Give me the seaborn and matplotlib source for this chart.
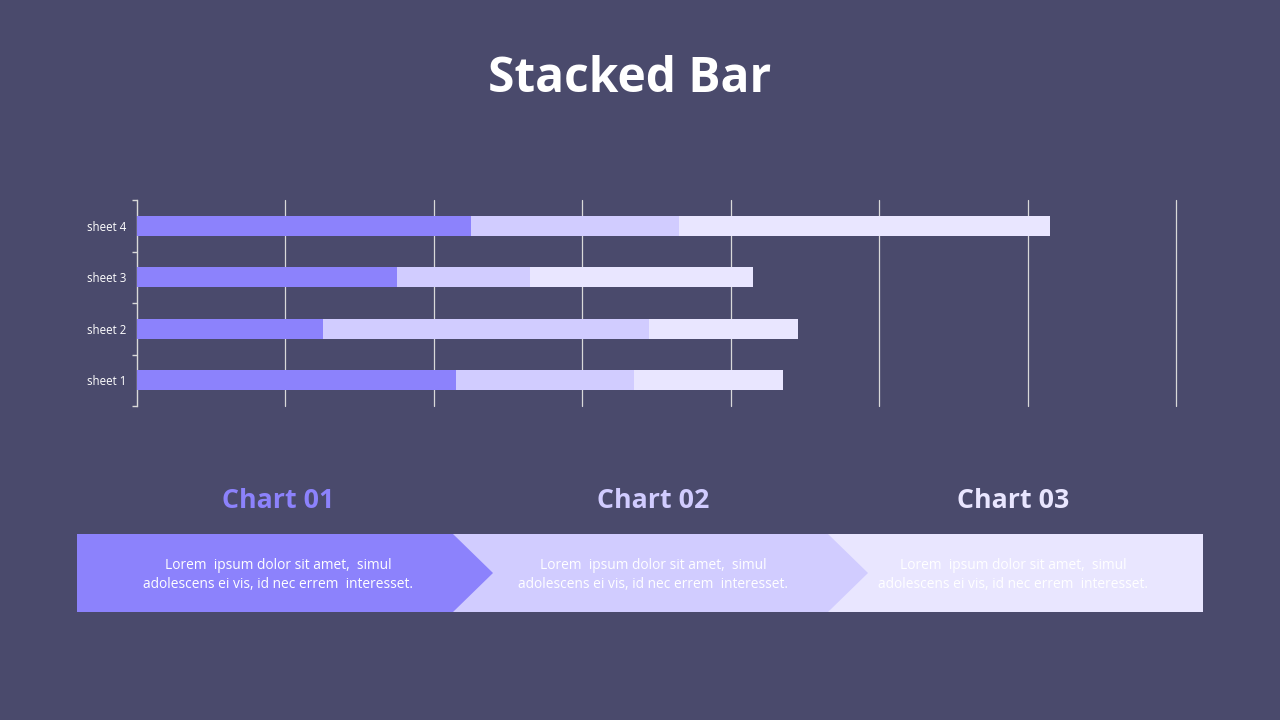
import numpy as np
import pandas as pd
import matplotlib
matplotlib.use("Agg")
import matplotlib.pyplot as plt
from matplotlib.patches import Polygon
import seaborn as sns

sns.set_theme(style="white")
plt.rcParams['font.family'] = ['Open Sans', 'DejaVu Sans']

# Chart values (series 1..3 for each sheet)
sheets = ["sheet 1", "sheet 2", "sheet 3", "sheet 4"]
series_1 = [4.3, 2.5, 3.5, 4.5]
series_2 = [2.4, 4.4, 1.8, 2.8]
series_3 = [2.0, 2.0, 3.0, 5.0]
x_ticks = [2, 4, 6, 8, 10, 12, 14]

# Bottom captions
chart_titles = ["Chart 01", "Chart 02", "Chart 03"]
caption = "Lorem  ipsum dolor sit amet,  simul\nadolescens ei vis, id nec errem  interesset."

BG = "#4A4A6C"
COLORS = ["#8C82FC", "#D1CCFF", "#E9E6FF"]
LINE = "#D9D9D9"

df = pd.DataFrame({"sheet": sheets, "s1": series_1, "s2": series_2, "s3": series_3})
df["c1"] = df["s1"]
df["c2"] = df["s1"] + df["s2"]
df["c3"] = df["s1"] + df["s2"] + df["s3"]
order = sheets[::-1]  # sheet 4 at top

fig = plt.figure(figsize=(12.8, 7.2), dpi=100, facecolor=BG)

# Main stacked bar axes
ax = fig.add_axes([137 / 1280, 1 - 406 / 720, 1039 / 1280, 206 / 720])
ax.set_facecolor(BG)

# draw cumulative totals from largest to smallest so they stack visually
for col, color in zip(["c3", "c2", "c1"], COLORS[::-1]):
    sns.barplot(data=df, x=col, y="sheet", order=order, orient="h",
                color=color, width=0.39, saturation=1, ax=ax, zorder=3,
                linewidth=0, edgecolor="none")

ax.set_xlim(0, 14)
ax.set_ylim(3.5, -0.5)
ax.set_xlabel("")
ax.set_ylabel("")
ax.set_xticks(x_ticks)
ax.set_xticklabels([])
ax.tick_params(axis="x", length=0)
ax.grid(axis="x", color=LINE, linewidth=0.9, zorder=0)
ax.grid(axis="y", visible=False)
ax.set_axisbelow(True)
for gl in ax.get_xgridlines():
    gl.set_clip_on(False)

ax.set_yticks(range(len(order)))
ax.set_yticklabels(order, color="white", fontsize=8.3)
ax.set_yticks(np.arange(-0.5, 4.0, 1.0), minor=True)
ax.tick_params(axis="y", which="major", length=0, pad=8)
ax.tick_params(axis="y", which="minor", left=True, length=3.5, width=1,
               color=LINE, direction="out")

for side in ["top", "right", "bottom"]:
    ax.spines[side].set_visible(False)
ax.spines["left"].set_color(LINE)
ax.spines["left"].set_linewidth(1)

# Title
fig.text(630 / 1280, 1 - 80 / 720, "Stacked Bar", color="white", fontsize=34.5,
         fontweight="bold", ha="center", va="center")

# Overlay axes in pixel coordinates for the arrow bands
ov = fig.add_axes([0, 0, 1, 1])
ov.set_xlim(0, 1280)
ov.set_ylim(720, 0)
ov.axis("off")
ov.patch.set_alpha(0)

top, bot, mid = 534, 612, 573
starts = [77, 453, 828]
ends = [453, 828, 1203]
points = [493, 868, None]
centers = [278, 653, 1013]

for i in range(3)[::-1]:
    x0, x1, xp = starts[i], ends[i], points[i]
    if xp is None:
        verts = [(x0, top), (x1, top), (x1, bot), (x0, bot)]
    else:
        verts = [(x0, top), (x1, top), (xp, mid), (x1, bot), (x0, bot)]
    ov.add_patch(Polygon(verts, closed=True, facecolor=COLORS[i], edgecolor="none", zorder=2 + (2 - i)))

for i in range(3):
    ov.text(centers[i], 501, chart_titles[i], color=COLORS[i], fontsize=19.3,
            fontweight="bold", ha="center", va="center", zorder=10)
    ov.text(centers[i], 575, caption, color="white", fontsize=9.9, ha="center",
            va="center", linespacing=1.38, zorder=10)

fig.savefig("out.png", dpi=100, facecolor=BG)
